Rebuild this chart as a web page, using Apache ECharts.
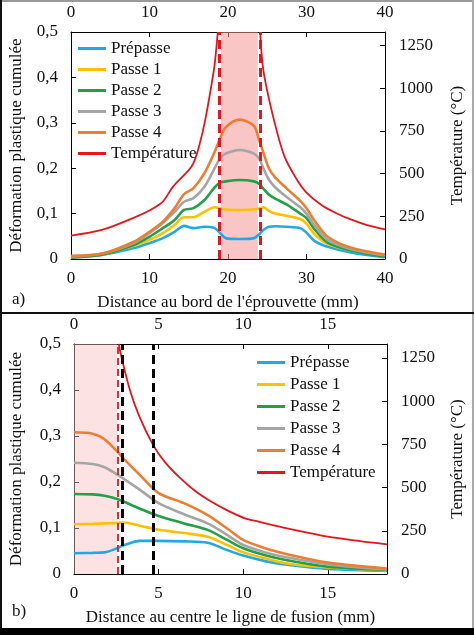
<!DOCTYPE html>
<html lang="fr">
<head>
<meta charset="UTF-8">
<title>Déformation plastique cumulée</title>
<script src="https://cdn.jsdelivr.net/npm/echarts@6/dist/echarts.min.js"></script>
<style>
  html, body { margin: 0; padding: 0; background: #fff; }
  #app { width: 474px; height: 635px; }
</style>
</head>
<body>
<div id="app"></div>
<script>
  // ---- panel a) : distance au bord de l'eprouvette ----
  let distA      = [0, 4, 8, 10, 11.7, 13.2, 14.4, 15.6, 17, 18.3, 19, 19.7, 21.5, 23.3, 24, 24.5, 25.2, 26, 27.5, 29.2, 30, 31, 32.7, 35.8, 40]
  let prepasseA  = [0.004, 0.009, 0.024, 0.035, 0.046, 0.06, 0.073, 0.068, 0.071, 0.068, 0.057, 0.046, 0.044, 0.046, 0.055, 0.064, 0.071, 0.072, 0.071, 0.068, 0.058, 0.04, 0.027, 0.014, 0.004]
  let passe1A    = [0.004, 0.01, 0.029, 0.042, 0.057, 0.075, 0.092, 0.092, 0.104, 0.114, 0.112, 0.109, 0.108, 0.109, 0.111, 0.114, 0.106, 0.1, 0.095, 0.088, 0.078, 0.055, 0.033, 0.018, 0.006]
  let passe2A    = [0.003, 0.01, 0.031, 0.049, 0.068, 0.086, 0.108, 0.112, 0.13, 0.158, 0.168, 0.171, 0.174, 0.171, 0.165, 0.155, 0.142, 0.133, 0.12, 0.1, 0.09, 0.066, 0.036, 0.018, 0.005]
  let passe3A    = [0.005, 0.012, 0.035, 0.057, 0.079, 0.104, 0.126, 0.134, 0.159, 0.2, 0.222, 0.232, 0.24, 0.232, 0.22, 0.2, 0.175, 0.158, 0.136, 0.114, 0.1, 0.074, 0.042, 0.021, 0.008]
  let passe4A    = [0.007, 0.012, 0.038, 0.06, 0.082, 0.112, 0.143, 0.156, 0.189, 0.236, 0.266, 0.29, 0.307, 0.293, 0.26, 0.235, 0.2, 0.18, 0.155, 0.128, 0.112, 0.085, 0.049, 0.024, 0.01]
  let tempDistA  = [0, 3.9, 7.8, 10.1, 11.7, 13, 15, 15.6, 16.3, 17.1, 18.2, 18.45, 18.7, 21.5, 24.1, 24.5, 25.85, 27.2, 28.8, 29.9, 31.9, 33.8, 35.8, 37.7, 40]
  let tempA      = [137, 170, 238, 287, 336, 424, 521, 562, 658, 815, 1107, 1205, 1330, null, 1330, 1107, 815, 600, 463, 394, 316, 268, 229, 199, 174]
  let zoneA      = [19.1, 23.8]
  let dashA      = [18.9, 24.1]

  // ---- panel b) : distance au centre de la ligne de fusion ----
  let distB      = [0, 1.1, 1.8, 2.56, 2.9, 3.9, 5, 6.5, 7.9, 9.05, 10, 11.3, 12.6, 15, 18.5]
  let prepasseB  = [0.045, 0.046, 0.047, 0.056, 0.062, 0.072, 0.072, 0.071, 0.068, 0.052, 0.04, 0.028, 0.02, 0.011, 0.007]
  let passe1B    = [0.108, 0.109, 0.11, 0.111, 0.112, 0.105, 0.096, 0.089, 0.081, 0.063, 0.047, 0.034, 0.023, 0.014, 0.008]
  let passe2B    = [0.174, 0.173, 0.17, 0.163, 0.158, 0.142, 0.126, 0.11, 0.096, 0.074, 0.056, 0.041, 0.03, 0.016, 0.009]
  let passe3B    = [0.242, 0.239, 0.232, 0.216, 0.208, 0.183, 0.154, 0.13, 0.11, 0.085, 0.063, 0.047, 0.036, 0.021, 0.01]
  let passe4B    = [0.308, 0.305, 0.293, 0.266, 0.252, 0.215, 0.176, 0.154, 0.128, 0.099, 0.074, 0.056, 0.043, 0.025, 0.012]
  let tempDistB  = [2.65, 2.75, 3.3, 3.86, 4.67, 5.35, 6.28, 7.2, 8.1, 9.0, 10.1, 10.9, 12.6, 15, 16.8, 18.5]
  let tempB      = [1330, 1278, 1065, 911, 747, 650, 554, 477, 419, 371, 322, 303, 264, 216, 191, 171]
  let zoneB      = [0, 2.56]
  let dashRedB   = [2.56]
  let dashBlackB = [2.86, 4.68]

  let names  = ['Prépasse', 'Passe 1', 'Passe 2', 'Passe 3', 'Passe 4', 'Température']
  let colors = ['#1eaae6', '#ffc000', '#21a048', '#a5a5a5', '#ed7d31', '#e8141b']

  let font = '"Liberation Serif", "DejaVu Serif", serif'
  let txt = { fontFamily: font, fontSize: 17, color: '#111' }

  function zip(xs, ys) {
    return xs.map((x, i) => [x, ys[i]])
  }
  function commaFmt(v) {
    return v === 0 ? '0' : v.toFixed(1).replace('.', ',')
  }

  function xAxes(gridIndex, max, interval, name) {
    let base = {
      type: 'value', gridIndex: gridIndex, min: 0, max: max, interval: interval,
      splitLine: { show: false },
      axisLine: { show: true, onZero: false, lineStyle: { color: '#000', width: 1 } },
      axisTick: { show: true, inside: true, length: 5, lineStyle: { color: '#000' } }
    }
    let lbl = { margin: 11, showMaxLabel: max % interval === 0, formatter: v => String(v) }
    return [
      Object.assign({}, base, {
        position: 'bottom', name: name, nameLocation: 'middle', nameGap: 35,
        nameTextStyle: txt,
        axisLabel: Object.assign({}, lbl, txt)
      }),
      Object.assign({}, base, {
        position: 'top',
        axisLabel: Object.assign({}, lbl, txt)
      })
    ]
  }

  function yAxes(gridIndex, leftGap, rightGap) {
    let common = {
      type: 'value', gridIndex: gridIndex, min: 0,
      splitLine: { show: false },
      axisLine: { show: true, onZero: false, lineStyle: { color: '#000', width: 1 } },
      axisTick: { show: true, inside: true, length: 5, lineStyle: { color: '#000' } },
      nameLocation: 'middle', nameTextStyle: txt
    }
    return [
      Object.assign({}, common, {
        position: 'left', max: 0.5, interval: 0.1,
        name: 'Déformation plastique cumulée', nameGap: leftGap,
        axisLabel: Object.assign({ margin: 13, formatter: commaFmt }, txt)
      }),
      Object.assign({}, common, {
        position: 'right', max: 1330, interval: 250,
        name: 'Température (°C)', nameGap: rightGap,
        axisLabel: Object.assign({ margin: 14, showMaxLabel: false, formatter: v => String(v) }, txt)
      })
    ]
  }

  function panelSeries(xi, yi, dist, strains, tdist, temp, zone, zoneColor, dashes) {
    let out = strains.map((vals, i) => ({
      name: names[i], type: 'line', xAxisIndex: xi, yAxisIndex: yi,
      data: zip(dist, vals), smooth: 0.3, symbol: 'none',
      lineStyle: { color: colors[i], width: 2.6 }, itemStyle: { color: colors[i] },
      z: 3
    }))
    out.push({
      name: names[5], type: 'line', xAxisIndex: xi, yAxisIndex: yi + 1,
      data: zip(tdist, temp), smooth: 0.3, symbol: 'none', connectNulls: false,
      lineStyle: { color: colors[5], width: 1.8 }, itemStyle: { color: colors[5] },
      z: 3,
      markArea: {
        silent: true, z: 1,
        itemStyle: { color: zoneColor },
        data: [[{ xAxis: zone[0] }, { xAxis: zone[1] }]]
      },
      markLine: {
        silent: true, symbol: 'none', label: { show: false },
        data: dashes
      }
    })
    return out
  }

  let dashLinesA = dashA.map(x => ({
    xAxis: x, lineStyle: { color: '#e8141b', width: 3, type: [9, 5] }
  }))
  let dashLinesB = dashRedB.map(x => ({
    xAxis: x, lineStyle: { color: '#e8141b', width: 1.8, type: [7, 4] }
  })).concat(dashBlackB.map(x => ({
    xAxis: x, lineStyle: { color: '#000', width: 3, type: [9, 5] }
  })))

  let legendCommon = {
    orient: 'vertical', icon: 'rect', itemWidth: 28, itemHeight: 3,
    data: names, textStyle: txt, selectedMode: false, padding: 0
  }

  let mCharts = echarts.init(document.getElementById('app'))
  let option = {
    backgroundColor: '#fff',
    animation: false,
    textStyle: { fontFamily: font },
    grid: [
      { left: 60, right: 71, top: 32, height: 227 },
      { left: 64, right: 78, top: 344, height: 230 }
    ],
    xAxis: [].concat(
      xAxes(0, 40, 10, "Distance au bord de l'éprouvette (mm)"),
      xAxes(1, 18.5, 5, 'Distance au centre le ligne de fusion (mm)')
    ),
    yAxis: [].concat(yAxes(0, 46, 64), yAxes(1, 49, 62)),
    legend: [
      Object.assign({}, legendCommon, { left: 78, top: 40, itemGap: 4 }),
      Object.assign({}, legendCommon, { left: 257, top: 354, itemGap: 5 })
    ],
    series: [].concat(
      panelSeries(0, 0, distA, [prepasseA, passe1A, passe2A, passe3A, passe4A],
        tempDistA, tempA, zoneA, 'rgba(244,150,150,0.55)', dashLinesA),
      panelSeries(2, 2, distB, [prepasseB, passe1B, passe2B, passe3B, passe4B],
        tempDistB, tempB, zoneB, 'rgba(248,190,190,0.45)', dashLinesB)
    ),
    graphic: [
      { type: 'rect', shape: { x: 0, y: 0, width: 474, height: 2 }, style: { fill: '#9a9a9a' } },
      { type: 'rect', shape: { x: 0, y: 0, width: 2, height: 635 }, style: { fill: '#111' } },
      { type: 'rect', shape: { x: 472, y: 0, width: 2, height: 635 }, style: { fill: '#aaa' } },
      { type: 'rect', shape: { x: 0, y: 312, width: 474, height: 2 }, style: { fill: '#111' } },
      { type: 'rect', shape: { x: 0, y: 628, width: 474, height: 7 }, style: { fill: '#000' } },
      { type: 'text', left: 12, top: 291, style: { text: 'a)', font: '17px "Liberation Serif"', fill: '#111' } },
      { type: 'text', left: 12, top: 603, style: { text: 'b)', font: '17px "Liberation Serif"', fill: '#111' } }
    ]
  }
  mCharts.setOption(option)
</script>
</body>
</html>
